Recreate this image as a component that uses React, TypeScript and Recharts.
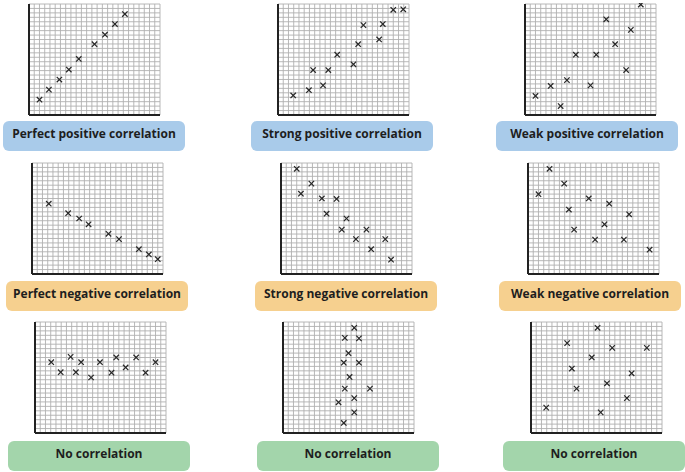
import { CartesianGrid, Scatter, ScatterChart, XAxis, YAxis } from "recharts";

// values are read in column units across (0-25) and in units of 0-21 up the sheet;
// the paper itself has 25 columns and 25 rows
const xTicks = Array.from({ length: 26 }, (_, i) => i);
const yTicks = Array.from({ length: 26 }, (_, i) => (i * 21) / 25);

const perfectPositive = [
  { x: 2, y: 2.9 }, { x: 3.8, y: 4.8 }, { x: 5.8, y: 6.7 }, { x: 7.6, y: 8.6 },
  { x: 9.5, y: 10.6 }, { x: 12.5, y: 13.4 }, { x: 14.5, y: 15.2 }, { x: 16.4, y: 17.2 },
  { x: 18.3, y: 19.1 },
];

const strongPositive = [
  { x: 2.9, y: 3.7 }, { x: 5.9, y: 4.7 }, { x: 8.6, y: 5.6 }, { x: 6.7, y: 8.5 },
  { x: 9.6, y: 8.5 }, { x: 11.3, y: 11.4 }, { x: 14.4, y: 9.6 }, { x: 15.3, y: 13.4 },
  { x: 16.3, y: 17 }, { x: 19.3, y: 14.3 }, { x: 20, y: 17.2 }, { x: 22, y: 19.9 },
  { x: 23.9, y: 20 },
];

const weakPositive = [
  { x: 2, y: 3.6 }, { x: 4.9, y: 5.5 }, { x: 6.8, y: 1.7 }, { x: 8, y: 6.6 },
  { x: 9.7, y: 11.4 }, { x: 12.5, y: 5.6 }, { x: 13.6, y: 11.4 }, { x: 15.5, y: 18.1 },
  { x: 17.2, y: 13.4 }, { x: 19.3, y: 8.5 }, { x: 20.2, y: 16.1 }, { x: 22.1, y: 20.9 },
];

const perfectNegative = [
  { x: 3.2, y: 13.3 }, { x: 6.9, y: 11.5 }, { x: 9, y: 10.5 }, { x: 10.8, y: 9.4 },
  { x: 14.6, y: 7.6 }, { x: 16.6, y: 6.6 }, { x: 20.4, y: 4.7 }, { x: 22.3, y: 3.7 },
  { x: 24, y: 2.8 },
];

const strongNegative = [
  { x: 3, y: 19.9 }, { x: 5.8, y: 17.1 }, { x: 3.8, y: 15.2 }, { x: 7.8, y: 14.3 },
  { x: 10.6, y: 14.2 }, { x: 8.7, y: 11.4 }, { x: 12.5, y: 10.5 }, { x: 11.6, y: 8.4 },
  { x: 16.3, y: 8.4 }, { x: 14.3, y: 6.6 }, { x: 19.9, y: 6.6 }, { x: 17.2, y: 4.7 },
  { x: 21, y: 2.7 },
];

const weakNegative = [
  { x: 2, y: 15.1 }, { x: 4.1, y: 19.9 }, { x: 6.9, y: 17.1 }, { x: 7.8, y: 12.2 },
  { x: 8.8, y: 8.4 }, { x: 11.6, y: 14.3 }, { x: 12.8, y: 6.5 }, { x: 14.6, y: 9.4 },
  { x: 15.5, y: 13.3 }, { x: 18.3, y: 6.5 }, { x: 19.3, y: 11.3 }, { x: 23.2, y: 4.6 },
];

const noneFlat = [
  { x: 3.1, y: 13.4 }, { x: 4.9, y: 11.5 }, { x: 6.8, y: 14.4 }, { x: 7.8, y: 11.5 },
  { x: 8.8, y: 13.4 }, { x: 10.7, y: 10.5 }, { x: 12.4, y: 13.4 }, { x: 14.6, y: 11.4 },
  { x: 15.5, y: 14.3 }, { x: 17.3, y: 12.4 }, { x: 19.3, y: 14.3 }, { x: 21.1, y: 11.4 },
  { x: 23, y: 13.4 },
];

const noneColumn = [
  { x: 13.6, y: 19.9 }, { x: 11.8, y: 18 }, { x: 14.5, y: 17.9 }, { x: 12.5, y: 15.1 },
  { x: 11.6, y: 13.3 }, { x: 14.5, y: 13.3 }, { x: 12.7, y: 10.6 }, { x: 11.8, y: 8.4 },
  { x: 16.6, y: 8.4 }, { x: 13.6, y: 6.6 }, { x: 10.6, y: 5.8 }, { x: 13.6, y: 3.9 },
  { x: 11.6, y: 1.9 },
];

const noneScattered = [
  { x: 12.7, y: 19.9 }, { x: 6.9, y: 17 }, { x: 15.5, y: 16.1 }, { x: 22.1, y: 16.1 },
  { x: 11.6, y: 14.3 }, { x: 7.8, y: 12.2 }, { x: 19.2, y: 11.3 }, { x: 14.5, y: 9.4 },
  { x: 8.7, y: 8.4 }, { x: 18.3, y: 6.6 }, { x: 2.9, y: 4.8 }, { x: 13.3, y: 3.9 },
];

const labels = [
  "Perfect positive correlation",
  "Strong positive correlation",
  "Weak positive correlation",
  "Perfect negative correlation",
  "Strong negative correlation",
  "Weak negative correlation",
  "No correlation",
  "No correlation",
  "No correlation",
];

const seriesList = [
  perfectPositive, strongPositive, weakPositive,
  perfectNegative, strongNegative, weakNegative,
  noneFlat, noneColumn, noneScattered,
];

const rowColors = ["#a9cbea", "#f6d08f", "#a3d5ab"];

// sheet placement: grid left/top, label box left/top
const sheets = [
  { gx: 29, gy: 4, bx: 3, by: 121 },
  { gx: 278, gy: 4, bx: 251, by: 121 },
  { gx: 525, gy: 4, bx: 496, by: 121 },
  { gx: 32, gy: 163, bx: 6, by: 281 },
  { gx: 281, gy: 163, bx: 255, by: 281 },
  { gx: 528, gy: 163, bx: 499, by: 281 },
  { gx: 35, gy: 322, bx: 8, by: 441 },
  { gx: 283, gy: 322, bx: 257, by: 441 },
  { gx: 531, gy: 322, bx: 503, by: 441 },
];

const GRID_W = 131;
const GRID_H = 111;

const Cross = (props: any) => {
  const { cx, cy } = props;
  const r = 2.7;
  return (
    <g stroke="#262626" strokeWidth={1.2}>
      <line x1={cx - r} y1={cy - r} x2={cx + r} y2={cy + r} />
      <line x1={cx - r} y1={cy + r} x2={cx + r} y2={cy - r} />
    </g>
  );
};

// tick labels are not shown, but the grid needs the ticks to exist
const NoLabel = () => <g />;

const Sheet = ({ data }: { data: { x: number; y: number }[] }) => (
  <ScatterChart
    width={GRID_W + 4}
    height={GRID_H + 4}
    margin={{ top: 1, right: 1, bottom: 2, left: 2 }}
  >
    <CartesianGrid stroke="#b0b0b0" strokeWidth={0.9} />
    <XAxis
      type="number"
      dataKey="x"
      domain={[0, 25]}
      ticks={xTicks}
      interval={0}
      tick={NoLabel}
      tickLine={false}
      height={1}
      axisLine={{ stroke: "#222", strokeWidth: 2 }}
    />
    <YAxis
      type="number"
      dataKey="y"
      domain={[0, 21]}
      ticks={yTicks}
      interval={0}
      tick={NoLabel}
      tickLine={false}
      width={1}
      axisLine={{ stroke: "#222", strokeWidth: 2 }}
    />
    <Scatter data={data} shape={<Cross />} isAnimationActive={false} />
  </ScatterChart>
);

const App = () => {
  return (
    <div
      style={{
        position: "absolute",
        left: 0,
        top: 0,
        width: 685,
        height: 472,
        background: "#fff",
        fontFamily: "'Open Sans', sans-serif",
      }}
    >
      {sheets.map((s, i) => (
        <div key={i}>
          <div style={{ position: "absolute", left: s.gx - 3, top: s.gy - 1 }}>
            <Sheet data={seriesList[i]} />
          </div>
          <div
            style={{
              position: "absolute",
              left: s.bx,
              top: s.by,
              width: 182,
              height: 30,
              boxSizing: "border-box",
              paddingBottom: 6,
              borderRadius: 6,
              background: rowColors[Math.floor(i / 3)],
              display: "flex",
              alignItems: "center",
              justifyContent: "center",
              fontSize: 12,
              fontWeight: 700,
              color: "#1e1e1e",
            }}
          >
            {labels[i]}
          </div>
        </div>
      ))}
    </div>
  );
};

export default App;
